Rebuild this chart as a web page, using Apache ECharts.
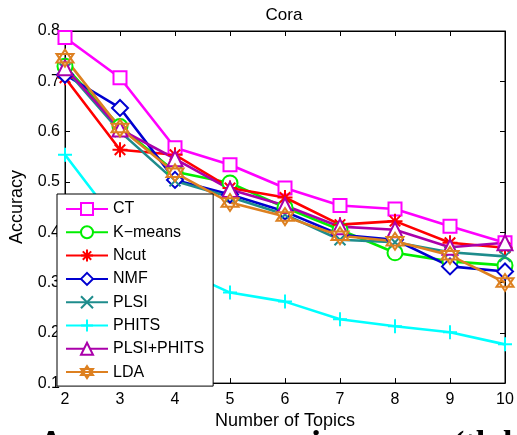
<!DOCTYPE html>
<html>
<head>
<meta charset="utf-8">
<script src="https://cdn.jsdelivr.net/npm/echarts@6/dist/echarts.min.js"></script>
<style>
html,body{margin:0;padding:0;background:#fff;}
#chart{width:517px;height:435px;}
</style>
</head>
<body>
<div id="chart"></div>
<script>
var topics = [2, 3, 4, 5, 6, 7, 8, 9, 10];
var ct        = [0.787, 0.707, 0.568, 0.534, 0.488, 0.453, 0.446, 0.412, 0.379];
var kmeans    = [0.730, 0.610, 0.520, 0.498, 0.449, 0.405, 0.359, 0.342, 0.334];
var ncut      = [0.707, 0.564, 0.554, 0.488, 0.469, 0.415, 0.422, 0.379, 0.369];
var nmf       = [0.713, 0.647, 0.504, 0.475, 0.441, 0.395, 0.385, 0.332, 0.322];
var plsi      = [0.725, 0.600, 0.502, 0.470, 0.435, 0.385, 0.380, 0.360, 0.352];
var phits     = [0.554, 0.411, 0.330, 0.280, 0.262, 0.227, 0.213, 0.201, 0.177];
var plsiPhits = [0.727, 0.605, 0.546, 0.485, 0.453, 0.411, 0.405, 0.370, 0.379];
var lda       = [0.746, 0.607, 0.518, 0.459, 0.431, 0.393, 0.382, 0.354, 0.300];
var seriesNames = ['CT', 'K\u2212means', 'Ncut', 'NMF', 'PLSI', 'PHITS', 'PLSI+PHITS', 'LDA'];

var FONT = 'Liberation Sans';
var ASTER = 'path://M0,-1L0,1M-1,0L1,0M-0.7,-0.7L0.7,0.7M-0.7,0.7L0.7,-0.7';
var XMARK = 'path://M-1,-1L1,1M-1,1L1,-1';
var PLUS = 'path://M0,-1L0,1M-1,0L1,0';
var HEX = 'path://M0,-1L0.866,0.5L-0.866,0.5ZM0,1L0.866,-0.5L-0.866,-0.5Z';

function pairs(arr) { return topics.map(function (t, i) { return [t, arr[i]]; }); }

function mk(name, arr, color, symbol, size, hollowPath) {
  var s = {
    name: name, type: 'line', data: pairs(arr),
    symbol: symbol, symbolSize: size, color: color,
    lineStyle: { color: color, width: 2.6 },
    itemStyle: { color: color, borderColor: color, borderWidth: 2 },
    emphasis: { disabled: true }, animation: false
  };
  if (hollowPath) s.itemStyle.color = '#fff';
  return s;
}

var chart = echarts.init(document.getElementById('chart'), null, { renderer: 'canvas' });
chart.setOption({
  backgroundColor: '#fff',
  animation: false,
  title: {
    text: 'Cora', left: 279, top: 2, textAlign: 'center',
    textStyle: { fontFamily: FONT, fontSize: 17, fontWeight: 'normal', color: '#000' }
  },
  grid: { left: 53, right: 12, top: 31, bottom: 51, show: true, borderColor: '#000', borderWidth: 1, backgroundColor: 'transparent' },
  legend: {
    orient: 'vertical', left: 57, top: 194,
    data: seriesNames,
    itemWidth: 42, itemHeight: 15, itemGap: 7.3,
    padding: [7, 9, 6, 8],
    backgroundColor: '#fff', borderColor: '#000', borderWidth: 1, borderRadius: 0,
    textStyle: { fontFamily: FONT, fontSize: 16, color: '#000' },
    selectedMode: false, z: 10
  },
  xAxis: [{
    type: 'value', min: 2, max: 10, interval: 1, position: 'bottom',
    name: 'Number of Topics', nameLocation: 'middle', nameGap: 25,
    nameTextStyle: { fontFamily: FONT, fontSize: 18, color: '#000' },
    axisLine: { lineStyle: { color: '#000', width: 1 } },
    axisTick: { inside: true, length: 5, lineStyle: { color: '#000' } },
    axisLabel: { margin: 8, fontFamily: FONT, fontSize: 16, color: '#000' },
    splitLine: { show: false }
  }, {
    type: 'value', min: 2, max: 10, interval: 1, position: 'top',
    axisLine: { lineStyle: { color: '#000', width: 1 } },
    axisTick: { inside: true, length: 5, lineStyle: { color: '#000' } },
    axisLabel: { show: false }, splitLine: { show: false }
  }],
  yAxis: [{
    type: 'value', min: 0.1, max: 0.8, interval: 0.1, position: 'left',
    name: 'Accuracy', nameLocation: 'middle', nameGap: 39, nameRotate: 90,
    nameTextStyle: { fontFamily: FONT, fontSize: 18, color: '#000' },
    axisLine: { show: true, lineStyle: { color: '#000', width: 1 } },
    axisTick: { show: true, inside: true, length: 5, lineStyle: { color: '#000' } },
    axisLabel: { margin: 5, fontFamily: FONT, fontSize: 16, color: '#000',
      formatter: function (v) { return v.toFixed(1); } },
    splitLine: { show: false }
  }, {
    type: 'value', min: 0.1, max: 0.8, interval: 0.1, position: 'right',
    axisLine: { show: true, lineStyle: { color: '#000', width: 1 } },
    axisTick: { show: true, inside: true, length: 5, lineStyle: { color: '#000' } },
    axisLabel: { show: false }, splitLine: { show: false }
  }],
  graphic: [{
    type: 'text', left: 38, top: 428, z: 100,
    style: { text: 'Accuracy comparison', font: 'bold 36px "Liberation Serif"', fill: '#000' }
  }, {
    type: 'text', left: 453, top: 428, z: 100,
    style: { text: '(th l', font: 'bold 34px "Liberation Serif"', fill: '#000' }
  }],
  series: [
    mk('CT', ct, '#ff00ff', 'emptyRect', 13),
    mk('K\u2212means', kmeans, '#00ee00', 'emptyCircle', 15),
    mk('Ncut', ncut, '#ff0000', ASTER, 15),
    mk('NMF', nmf, '#0000d0', 'emptyDiamond', 16),
    mk('PLSI', plsi, '#1e8c8c', XMARK, 11),
    mk('PHITS', phits, '#00ffff', PLUS, 14),
    mk('PLSI+PHITS', plsiPhits, '#aa00aa', 'emptyTriangle', 15),
    mk('LDA', lda, '#dd8020', HEX, 17, true)
  ]
});
</script>
</body>
</html>
